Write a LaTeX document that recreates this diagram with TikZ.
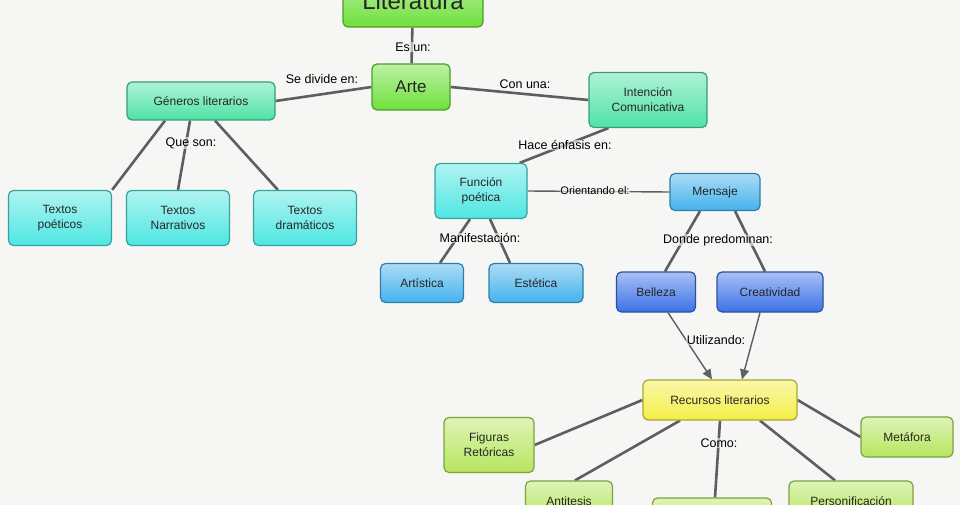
\documentclass[tikz,border=0pt]{standalone}
\usepackage{fontspec}
\setmainfont{Liberation Sans}
\usetikzlibrary{arrows.meta}
\definecolor{bg}{HTML}{F6F6F4}
\definecolor{lime}{HTML}{6EE03A}
\definecolor{mint}{HTML}{4EE2A6}
\definecolor{cyanb}{HTML}{4EE6E2}
\definecolor{skyb}{HTML}{44B2EC}
\definecolor{royal}{HTML}{3C72E8}
\definecolor{yel}{HTML}{F4EE46}
\definecolor{ygreen}{HTML}{B6E65E}
\definecolor{ln}{HTML}{5E5E5E}
\definecolor{arrc}{HTML}{4E6878}
\pgfdeclarelayer{bgl}
\pgfsetlayers{bgl,main}
\tikzset{
 box/.style={draw=#1!70!black, line width=1.2pt, rounded corners=5pt, top color=#1!45!white, bottom color=#1, align=center, inner sep=2pt, font=\fontsize{12}{15}\selectfont, text=black!85},
 lbl/.style={fill=bg, fill opacity=0.6, text opacity=1, inner sep=0.5pt, font=\fontsize{12.5}{14}\selectfont},
 con/.style={draw=ln, line width=2.6pt},
 thin/.style={draw=ln, line width=1.4pt},
 arr/.style={draw=ln, line width=1.4pt, -{Triangle[length=10pt,width=9pt,fill=arrc]}}
}
\begin{document}
\begin{tikzpicture}[x=1pt,y=-1pt]
\useasboundingbox (0,0) rectangle (960,505);
% nodes
\node[box=lime, minimum width=140, minimum height=52, font=\fontsize{24}{26}\selectfont] (lit) at (413,1) {Literatura};
\node[box=lime, minimum width=78, minimum height=46, font=\fontsize{17}{19}\selectfont] (arte) at (411,87) {Arte};
\node[box=mint, minimum width=148, minimum height=38] (gen) at (201,101) {Géneros literarios};
\node[box=mint, minimum width=118, minimum height=55] (int) at (648,100) {Intención\\Comunicativa};
\node[box=cyanb, minimum width=103, minimum height=55] (tp) at (60,218) {Textos\\poéticos};
\node[box=cyanb, minimum width=103, minimum height=55] (tn) at (178,218) {Textos\\Narrativos};
\node[box=cyanb, minimum width=103, minimum height=55] (td) at (305,218) {Textos\\dramáticos};
\node[box=cyanb, minimum width=92, minimum height=55] (fp) at (481,191) {Función\\poética};
\node[box=skyb, minimum width=90, minimum height=37] (men) at (715,192) {Mensaje};
\node[box=skyb, minimum width=83, minimum height=39] (art) at (422,283) {Artística};
\node[box=skyb, minimum width=94, minimum height=39] (est) at (536,283) {Estética};
\node[box=royal, minimum width=79, minimum height=40] (bel) at (656,292) {Belleza};
\node[box=royal, minimum width=106, minimum height=40] (cre) at (770,292) {Creatividad};
\node[box=yel, minimum width=154, minimum height=40] (rec) at (720,400) {Recursos literarios};
\node[box=ygreen, minimum width=90, minimum height=55] (fig) at (489,445) {Figuras\\Retóricas};
\node[box=ygreen, minimum width=92, minimum height=40] (met) at (907,437) {Metáfora};
\node[box=ygreen, minimum width=87, minimum height=40] (ant) at (569,501) {Antitesis};
\node[box=ygreen, minimum width=119, minimum height=40] (mid) at (712,518) {};
\node[box=ygreen, minimum width=124, minimum height=40] (per) at (851,501) {Personificación};
% connectors
\begin{pgfonlayer}{bgl}
\fill[bg] (0,0) rectangle (960,505);
\draw[con] (lit) -- (arte);
\draw[con] (gen.east) -- (arte.west);
\draw[con] (arte.east) -- (int.west);
\draw[con] ([xshift=-36pt]gen.south) -- (tp.north east);
\draw[con] ([xshift=-11pt]gen.south) -- (tn.north);
\draw[con] ([xshift=14pt]gen.south) -- ([xshift=25pt]td.north west);
\draw[con] ([xshift=20pt]int.south west) -- ([xshift=-8pt]fp.north east);
\draw[thin] (fp.east) -- (men.west);
\draw[con] ([xshift=-11pt]fp.south) -- ([xshift=18pt]art.north);
\draw[con] ([xshift=9pt]fp.south) -- ([xshift=-26pt]est.north);
\draw[con] ([xshift=-15pt]men.south) -- ([xshift=9pt]bel.north);
\draw[con] ([xshift=20pt]men.south) -- ([xshift=-5pt]cre.north);
\draw[con] (rec.west) -- (fig.east);
\draw[con] (rec.east) -- (met.west);
\draw[con] ([xshift=-40pt]rec.south) -- ([xshift=6pt]ant.north);
\draw[con] (rec.south) -- ([xshift=3pt]mid.north);
\draw[con] ([xshift=40pt]rec.south) -- ([xshift=-16pt]per.north);
\end{pgfonlayer}
\draw[arr] ([xshift=12pt]bel.south) -- ([xshift=-8pt]rec.north);
\draw[arr] ([xshift=-10pt]cre.south) -- ([xshift=22pt]rec.north);
% labels
\node[lbl] (l1) at (413,47) {Es un:};
\node[lbl] (l2) at (322,79) {Se divide en:};
\node[lbl] (l3) at (525,84) {Con una:};
\node[lbl] (l4) at (191,143) {Que son:};
\node[lbl] (l5) at (565,145) {Hace énfasis en:};
\node[lbl, font=\fontsize{11}{13}\selectfont] (l6) at (595,191) {Orientando el:};
\node[lbl] (l7) at (480,238) {Manifestación:};
\node[lbl] (l8) at (718,240) {Donde predominan:};
\node[lbl] (l9) at (716,340) {Utilizando:};
\node[lbl] (l10) at (719,443) {Como:};
\end{tikzpicture}
\end{document}
